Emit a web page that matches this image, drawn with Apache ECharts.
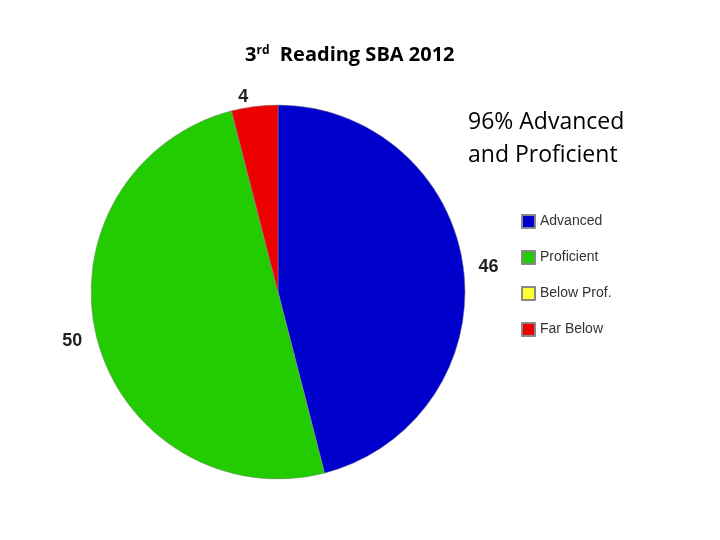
<!DOCTYPE html>
<html><head><meta charset="utf-8">
<script src="https://cdn.jsdelivr.net/npm/echarts@6/dist/echarts.min.js"></script>
<style>html,body{margin:0;padding:0;background:#fff}#c{width:720px;height:540px}</style>
</head><body><div id="c"></div>
<script>
const categories = ['Advanced', 'Proficient', 'Below Prof.', 'Far Below'];
const values = [46, 50, 0, 4];
const colors = ['#0000cc', '#22cc00', '#ffff33', '#ee0000'];
const chart = echarts.init(document.getElementById('c'));
chart.setOption({
  animation: false,
  color: colors,
  title: [{
    text: '{n|3}{s|rd}{n|  Reading SBA 2012}',
    left: 240, top: 40,
    textStyle: { rich: {
      n: { fontFamily: 'Open Sans', fontSize: 20, color: '#000' },
      s: { fontFamily: 'Open Sans', fontSize: 12, color: '#000', verticalAlign: 'top', lineHeight: 16 }
    } }
  }, {
    text: '96% Advanced\nand Proficient',
    left: 463, top: 101,
    textStyle: { fontFamily: 'Open Sans', fontSize: 23, fontWeight: 'normal', color: '#000', lineHeight: 33 }
  }],
  legend: {
    orient: 'vertical', left: 516, top: 209,
    itemWidth: 13, itemHeight: 13, itemGap: 21,
    icon: 'rect',
    data: categories,
    textStyle: { fontFamily: 'Liberation Sans', fontSize: 14, color: '#333' }
  },
  series: [{
    type: 'pie',
    center: [278, 292], radius: 187,
    startAngle: 90, clockwise: true,
    data: categories.map((c, i) => ({
      name: c, value: values[i],
      label: { show: values[i] > 0 }
    })),
    label: {
      position: 'outside', formatter: '{c}',
      fontFamily: 'Liberation Sans', fontWeight: 'bold', fontSize: 18, color: '#222'
    },
    labelLine: { show: false, length: 10, length2: 0 },
    itemStyle: { borderColor: '#888', borderWidth: 0.5 },
    emphasis: { disabled: true }
  }]
});
</script></body></html>
